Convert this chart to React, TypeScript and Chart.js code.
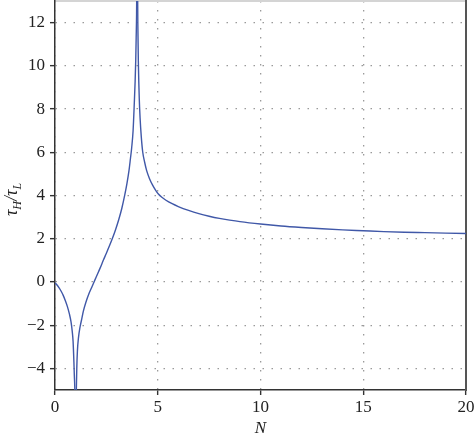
import { useEffect, useRef } from "react";
import { Chart, registerables } from "chart.js";

Chart.register(...registerables);

const X_TICKS = [0, 5, 10, 15, 20];
const Y_TICKS = [-4, -2, 0, 2, 4, 6, 8, 10, 12];

// 0 < N < 1 : falls from ~0 to the pole at N = 1
const N_LOW = [0, 0.1, 0.2, 0.3, 0.4, 0.5, 0.6, 0.7, 0.78, 0.84, 0.88, 0.92, 0.94, 0.96, 0.975, 0.99];
const RATIO_LOW = [-0.05, -0.14, -0.27, -0.43, -0.62, -0.86, -1.13, -1.48, -1.85, -2.3, -2.75, -3.7, -4.3, -4.8, -5.4, -7];

// 1 < N < 4 : rises from the pole at 1 to the pole at 4
const N_MID = [1.01, 1.03, 1.06, 1.09, 1.14, 1.22, 1.3, 1.38, 1.5, 1.65, 1.8, 1.9, 2.0, 2.2, 2.35, 2.5, 2.65, 2.8, 2.95, 3.1, 3.25, 3.4, 3.5, 3.6, 3.67, 3.73, 3.8, 3.86, 3.9, 3.93, 3.95, 3.97, 3.99];
const RATIO_MID = [-7, -5.4, -4.0, -3.2, -2.6, -2.08, -1.72, -1.35, -0.95, -0.55, -0.22, 0.0, 0.22, 0.65, 1.0, 1.33, 1.67, 2.03, 2.43, 2.88, 3.4, 4.05, 4.55, 5.15, 5.7, 6.2, 7.0, 8.3, 9.3, 10.3, 11.3, 12.4, 15];

// N > 4 : decays towards ~2.2
const N_HIGH = [4.01, 4.03, 4.06, 4.1, 4.14, 4.2, 4.27, 4.36, 4.46, 4.6, 4.75, 4.9, 5.03, 5.2, 5.4, 5.7, 6, 6.5, 7, 7.5, 8, 8.5, 9, 10, 11, 12, 13, 14, 15, 16, 17, 18, 19, 20];
const RATIO_HIGH = [15, 12, 10, 8.5, 7.6, 6.7, 6.0, 5.55, 5.15, 4.78, 4.48, 4.24, 4.07, 3.92, 3.78, 3.62, 3.49, 3.31, 3.16, 3.04, 2.94, 2.86, 2.79, 2.68, 2.59, 2.52, 2.46, 2.41, 2.37, 2.33, 2.3, 2.28, 2.26, 2.24];

const LINE_COLOR = "#4058a8";
const SERIF = '"Liberation Serif", "Times New Roman", serif';

const branch = (xs: number[], ys: number[]) => ({
  data: xs.map((x, i) => ({ x, y: ys[i] })),
  borderColor: LINE_COLOR,
  borderWidth: 1.4,
  pointRadius: 0,
  cubicInterpolationMode: "monotone" as const,
  fill: false,
});

// y-axis title with real subscripts: τ_H / τ_L
const yTitlePlugin = {
  id: "yTitle",
  afterDraw(chart: any) {
    const { ctx, chartArea } = chart;
    const parts = [
      { t: "τ", size: 18, dy: 0 },
      { t: "H", size: 12, dy: 4 },
      { t: "/", size: 18, dy: 0 },
      { t: "τ", size: 18, dy: 0 },
      { t: "L", size: 12, dy: 4 },
    ];
    ctx.save();
    let total = 0;
    const widths = parts.map(p => {
      ctx.font = `italic ${p.size}px ${SERIF}`;
      const w = ctx.measureText(p.t).width;
      total += w;
      return w;
    });
    ctx.translate(17, (chartArea.top + chartArea.bottom) / 2 + 4);
    ctx.rotate(-Math.PI / 2);
    ctx.fillStyle = "#222";
    ctx.textBaseline = "alphabetic";
    let x = -total / 2;
    parts.forEach((p, i) => {
      ctx.font = `italic ${p.size}px ${SERIF}`;
      ctx.fillText(p.t, x, p.dy);
      x += widths[i];
    });
    ctx.restore();
  },
};

const gridStyle = {
  color: "#9a9a9a",
  lineWidth: 1.3,
  tickColor: "#333",
  tickLength: 5,
  tickWidth: 1.4,
};

export default function App() {
  const canvasRef = useRef<HTMLCanvasElement>(null);
  const chartRef = useRef<Chart | null>(null);

  useEffect(() => {
    if (!canvasRef.current) return;
    if (chartRef.current) chartRef.current.destroy();

    chartRef.current = new Chart(canvasRef.current, {
      type: "line",
      data: {
        datasets: [
          branch(N_LOW, RATIO_LOW),
          branch(N_MID, RATIO_MID),
          branch(N_HIGH, RATIO_HIGH),
        ],
      },
      options: {
        animation: false,
        responsive: true,
        maintainAspectRatio: false,
        layout: { padding: { top: 1, right: 8, left: 0, bottom: 0 } },
        plugins: {
          legend: { display: false },
          tooltip: { enabled: false },
        },
        scales: {
          x: {
            type: "linear",
            min: 0,
            max: 20,
            afterBuildTicks: (s: any) => { s.ticks = X_TICKS.map(v => ({ value: v })); },
            afterFit: (s: any) => { s.height = 50; s.paddingLeft = 0; s.paddingRight = 0; },
            grid: gridStyle,
            border: { color: "#333", width: 1.5, dash: [1.5, 7.5] },
            ticks: { padding: 2, color: "#222", font: { family: SERIF, size: 17 } },
            title: {
              display: true,
              text: "N",
              color: "#222",
              padding: { top: 0, bottom: 1 },
              font: { family: SERIF, size: 17, style: "italic" },
            },
          },
          xTop: {
            type: "linear",
            position: "top",
            afterFit: (s: any) => { s.height = 0; s.paddingLeft = 0; s.paddingRight = 0; },
            grid: { display: false },
            ticks: { display: false },
            border: { color: "#d4d4d4", width: 2 },
          },
          y: {
            type: "linear",
            min: -5,
            max: 13,
            afterBuildTicks: (s: any) => { s.ticks = Y_TICKS.map(v => ({ value: v })); },
            afterFit: (s: any) => { s.width = 55; s.paddingTop = 0; s.paddingBottom = 0; },
            grid: gridStyle,
            border: { color: "#333", width: 1.5, dash: [1.5, 7.5] },
            ticks: {
              padding: 5,
              color: "#222",
              font: { family: SERIF, size: 17 },
              callback: (v: any) => String(v).replace("-", "\u2212"),
            },
          },
          yRight: {
            type: "linear",
            position: "right",
            afterFit: (s: any) => { s.width = 0; s.paddingTop = 0; s.paddingBottom = 0; },
            grid: { display: false },
            ticks: { display: false },
            border: { color: "#555", width: 2 },
          },
        },
      },
      plugins: [yTitlePlugin],
    });

    return () => { chartRef.current?.destroy(); chartRef.current = null; };
  }, []);

  return (
    <div style={{ position: "absolute", left: 0, top: 0, width: 474, height: 440, background: "#fff" }}>
      <canvas ref={canvasRef} />
    </div>
  );
}
